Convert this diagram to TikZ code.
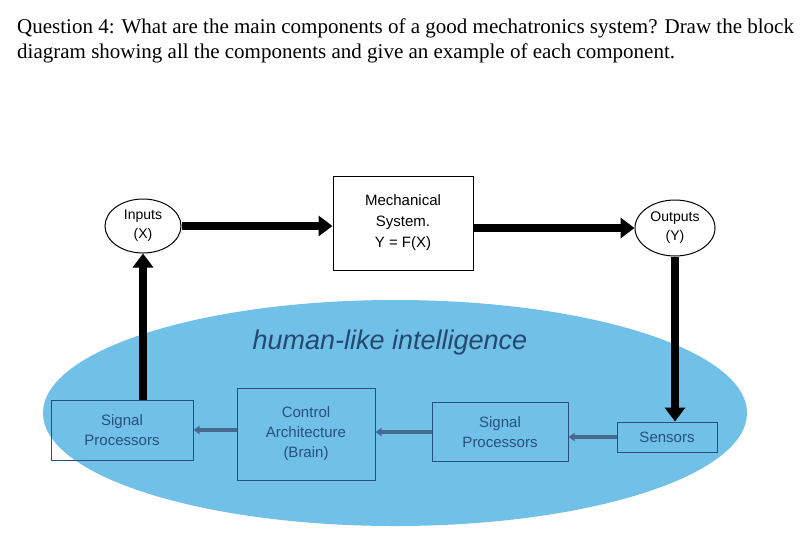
\documentclass[tikz,border=0pt]{standalone}
\usepackage{fontspec}
\setmainfont{Liberation Serif}
\newfontfamily\arialf{Liberation Sans}
\usetikzlibrary{arrows.meta,shapes.geometric}
\definecolor{skyb}{RGB}{112,192,232}
\definecolor{darkb}{RGB}{40,80,125}
\tikzset{
  blk/.style={draw=black,line width=1pt,fill=white,align=center,font=\arialf\fontsize{15}{21}\selectfont,inner sep=2pt},
  bblk/.style={draw=darkb,line width=1pt,align=center,text=darkb,font=\arialf\fontsize{15}{20}\selectfont,inner sep=2pt},
  oval/.style={draw=black,line width=1pt,fill=white,ellipse,align=center,font=\arialf\fontsize{14}{19}\selectfont,inner sep=0pt},
  bigarr/.style={line width=8pt,-{Triangle[length=14pt,width=20pt]}},
  smallarr/.style={line width=4pt,darkb!85,-{Triangle[length=6pt,width=8pt]}}
}
\begin{document}
\begin{tikzpicture}[x=1pt,y=-1pt]
\useasboundingbox (0,0) rectangle (810,542);
\fill[white] (0,0) rectangle (810,542);
\node[anchor=west,font=\fontsize{21}{24}\selectfont,inner sep=0pt] (t1) at (17,28) {Question 4: What are the main components of a good mechatronics system? Draw the block};
\node[anchor=west,font=\fontsize{21}{24}\selectfont,inner sep=0pt] (t2) at (17,53) {diagram showing all the components and give an example of each component.};
\fill[skyb] (395,413) ellipse [x radius=352, y radius=113];
\node[font=\arialf\itshape\fontsize{27}{30}\selectfont,text=darkb!90!black] (hl) at (390,343) {human-like intelligence};
\node[oval,minimum width=76pt,minimum height=54pt] (in) at (143,226) {Inputs\\(X)};
\node[blk,minimum width=140pt,minimum height=94pt] (mech) at (403,223) {Mechanical\\System.\\Y = F(X)};
\node[oval,minimum width=80pt,minimum height=56pt] (out) at (675,228) {Outputs\\(Y)};
\node[bblk,minimum width=100pt,minimum height=30pt] (sens) at (667,437) {Sensors};
\node[bblk,minimum width=136pt,minimum height=59pt] (sp2) at (500,432) {Signal\\Processors};
\node[bblk,minimum width=138pt,minimum height=92pt] (ctl) at (306,434) {Control\\Architecture\\(Brain)};
\node[bblk,minimum width=142pt,minimum height=60pt] (sp1) at (122,430) {Signal\\Processors};
\draw[bigarr] (in.east) -- (in.east -| mech.west);
\draw[bigarr] (out.west -| mech.east) -- (out.west);
\draw[bigarr,black] (out.south) -- (out.south |- sens.north);
\draw[bigarr] (sp1.north -| in.south) -- (in.south);
\draw[smallarr] (sens.west) -- (sens.west -| sp2.east);
\draw[smallarr] (sp2.west) -- (sp2.west -| ctl.east);
\draw[smallarr] (ctl.west |- sp1.east) -- (sp1.east);
\end{tikzpicture}
\end{document}
